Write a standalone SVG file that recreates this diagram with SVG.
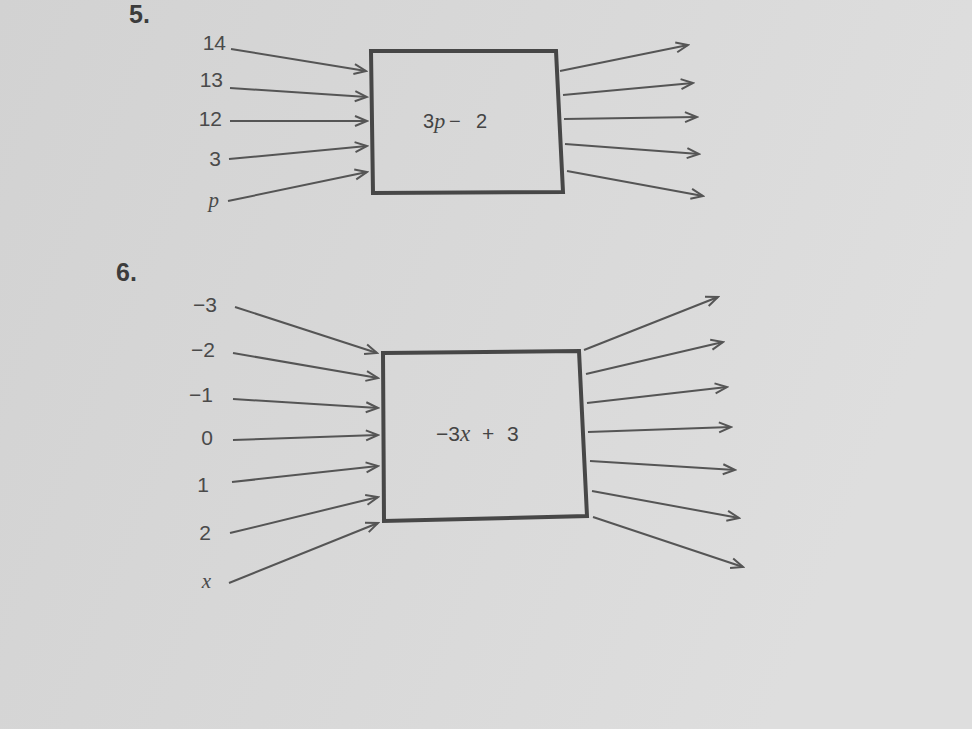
<svg xmlns="http://www.w3.org/2000/svg" width="972" height="729" viewBox="0 0 972 729">
<defs>
<linearGradient id="bg" x1="0" y1="0" x2="1" y2="0.3">
<stop offset="0" stop-color="#d2d2d2"/>
<stop offset="0.6" stop-color="#d9d9d9"/>
<stop offset="1" stop-color="#dedede"/>
</linearGradient>
<marker id="ah" markerUnits="userSpaceOnUse" markerWidth="16" markerHeight="16" viewBox="-14 -8 16 16" refX="0" refY="0" orient="auto">
<path d="M-12,-5 L0,0 L-12,5" fill="none" stroke="#555" stroke-width="2" stroke-linejoin="miter"/>
</marker>
</defs>
<style>
.num{font-family:"Liberation Sans","Noto Sans",sans-serif;font-size:21px;fill:#4a4a4a;}
.var{font-family:"Liberation Serif","DejaVu Serif",serif;font-style:italic;}
.hdr{font-family:"Liberation Sans","DejaVu Sans",sans-serif;font-size:25px;font-weight:bold;fill:#3c3c3c;}
.box{fill:none;stroke:#474747;stroke-width:4;stroke-linejoin:miter;}
.arr{stroke:#555;stroke-width:2;fill:none;marker-end:url(#ah);}
.fn{font-family:"Liberation Sans","Noto Sans",sans-serif;fill:#444;}
</style>
<rect width="972" height="729" fill="url(#bg)"/>

<text class="hdr" x="129" y="23">5.</text>
<text class="hdr" x="116" y="281">6.</text>

<g id="f5-box">
<polygon class="box" points="371,51 556,51 563,192 373,193"/>
<text class="fn" font-size="20" y="128"><tspan x="423">3</tspan><tspan class="var" font-size="22">p</tspan><tspan x="449">−</tspan><tspan x="476">2</tspan></text>
</g>
<g id="f5-inputs">
<text class="num" x="226" y="50" text-anchor="end">14</text>
<text class="num" x="223" y="87" text-anchor="end">13</text>
<text class="num" x="222" y="126" text-anchor="end">12</text>
<text class="num" x="221" y="166" text-anchor="end">3</text>
<text class="num var" x="219" y="207" text-anchor="end">p</text>
</g>

<g id="f6-box">
<polygon class="box" points="383,353 579,351 587,516 384,521"/>
<text class="fn" font-size="21" y="441"><tspan x="436">−3</tspan><tspan class="var" font-size="23">x</tspan><tspan x="482">+</tspan><tspan x="507">3</tspan></text>
</g>
<g id="f6-inputs">
<text class="num" x="217" y="312" text-anchor="end">−3</text>
<text class="num" x="215" y="357" text-anchor="end">−2</text>
<text class="num" x="213" y="402" text-anchor="end">−1</text>
<text class="num" x="213" y="445" text-anchor="end">0</text>
<text class="num" x="209" y="492" text-anchor="end">1</text>
<text class="num" x="211" y="540" text-anchor="end">2</text>
<text class="num var" x="211" y="588" text-anchor="end">x</text>
</g>

<g id="connectors">
<line class="arr" x1="231" y1="49" x2="366" y2="71"/>
<line class="arr" x1="230" y1="88" x2="367" y2="97"/>
<line class="arr" x1="230" y1="121" x2="367" y2="121"/>
<line class="arr" x1="229" y1="159" x2="367" y2="146"/>
<line class="arr" x1="228" y1="201" x2="367" y2="172"/>

<line class="arr" x1="560" y1="71" x2="688" y2="45"/>
<line class="arr" x1="563" y1="95" x2="693" y2="83"/>
<line class="arr" x1="564" y1="119" x2="697" y2="117"/>
<line class="arr" x1="565" y1="144" x2="699" y2="154"/>
<line class="arr" x1="567" y1="171" x2="703" y2="196"/>

<line class="arr" x1="235" y1="307" x2="377" y2="353"/>
<line class="arr" x1="233" y1="353" x2="378" y2="378"/>
<line class="arr" x1="233" y1="399" x2="378" y2="408"/>
<line class="arr" x1="233" y1="440" x2="378" y2="435"/>
<line class="arr" x1="232" y1="482" x2="378" y2="466"/>
<line class="arr" x1="230" y1="533" x2="378" y2="497"/>
<line class="arr" x1="229" y1="583" x2="378" y2="523"/>

<line class="arr" x1="584" y1="350" x2="718" y2="297"/>
<line class="arr" x1="586" y1="374" x2="723" y2="342"/>
<line class="arr" x1="587" y1="403" x2="727" y2="387"/>
<line class="arr" x1="588" y1="432" x2="731" y2="427"/>
<line class="arr" x1="590" y1="461" x2="735" y2="470"/>
<line class="arr" x1="592" y1="491" x2="739" y2="518"/>
<line class="arr" x1="593" y1="517" x2="743" y2="567"/>
</g>
</svg>
